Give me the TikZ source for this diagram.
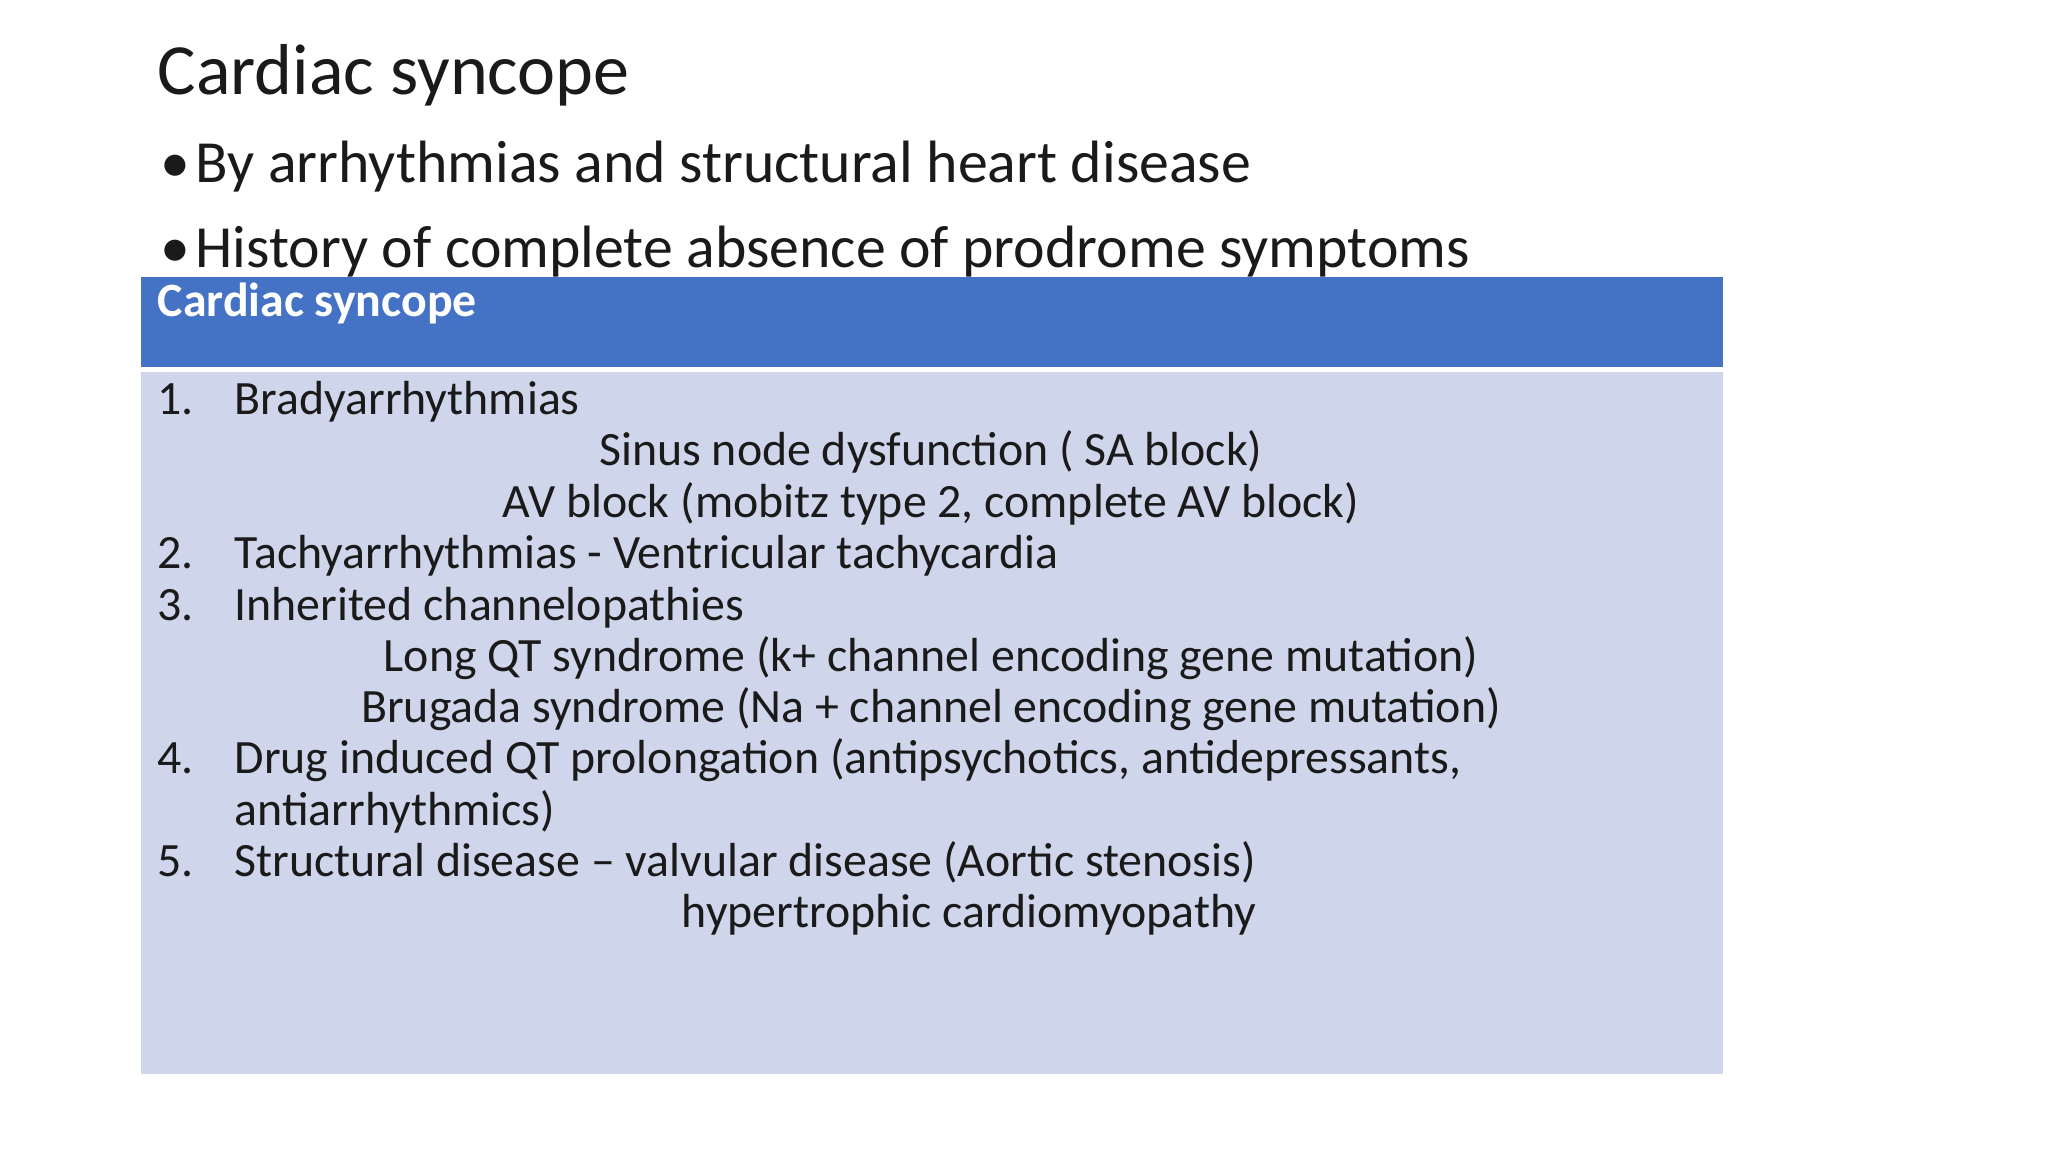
\documentclass[tikz,border=0pt]{standalone}
\usepackage{fontspec}
\setmainfont{Carlito}
\definecolor{hdr}{HTML}{4472C4}
\definecolor{bdy}{HTML}{CFD5EA}
\definecolor{txt}{HTML}{1A1A1A}
\begin{document}
\begin{tikzpicture}[x=0.01cm,y=-0.01cm,
  t/.style={anchor=base west,inner sep=0pt,text=txt,font=\fontsize{13.6pt}{15pt}\selectfont},
  c/.style={anchor=base,inner sep=0pt,text=txt,font=\fontsize{13.6pt}{15pt}\selectfont},
  b/.style={anchor=base west,inner sep=0pt,text=txt,font=\fontsize{17pt}{20pt}\selectfont}]
\useasboundingbox (0,0) rectangle (2048,1152);
\fill[white] (0,0) rectangle (2048,1152);
\node[anchor=base west,inner sep=0pt,text=txt,font=\fontsize{20.5pt}{24pt}\selectfont] (title) at (157,95) {Cardiac syncope};
\node[b] (d1) at (160,183) {•};
\node[b] (b1) at (195,183) {By arrhythmias and structural heart disease};
\node[b] (d2) at (160,268) {•};
\node[b] (b2) at (195,268) {History of complete absence of prodrome symptoms};
\fill[hdr] (141,277) rectangle (1723,367);
\fill[bdy] (141,372) rectangle (1723,1074);
\node[anchor=base west,inner sep=0pt,text=white,font=\fontsize{13.6pt}{15pt}\selectfont\bfseries] (h) at (157,317) {Cardiac syncope};
\node[t] (n1) at (157,415) {1.};
\node[t] (l1) at (234,415) {Bradyarrhythmias};
\node[c] (l1a) at (931,466) {Sinus node dysfunction ( SA block)};
\node[c] (l1b) at (931,518) {AV block (mobitz type 2, complete AV block)};
\node[t] (n2) at (157,569) {2.};
\node[t] (l2) at (234,569) {Tachyarrhythmias - Ventricular tachycardia};
\node[t] (n3) at (157,620) {3.};
\node[t] (l3) at (234,620) {Inherited channelopathies};
\node[c] (l3a) at (931,671) {Long QT syndrome (k+ channel encoding gene mutation)};
\node[c] (l3b) at (931,722) {Brugada syndrome (Na + channel encoding gene mutation)};
\node[t] (n4) at (157,773) {4.};
\node[t] (l4) at (234,773) {Drug induced QT prolongation (antipsychotics, antidepressants,};
\node[t] (l4b) at (234,825) {antiarrhythmics)};
\node[t] (n5) at (157,876) {5.};
\node[t] (l5) at (234,876) {Structural disease – valvular disease (Aortic stenosis)};
\node[c] (l5a) at (969,927) {hypertrophic cardiomyopathy};
\end{tikzpicture}
\end{document}
